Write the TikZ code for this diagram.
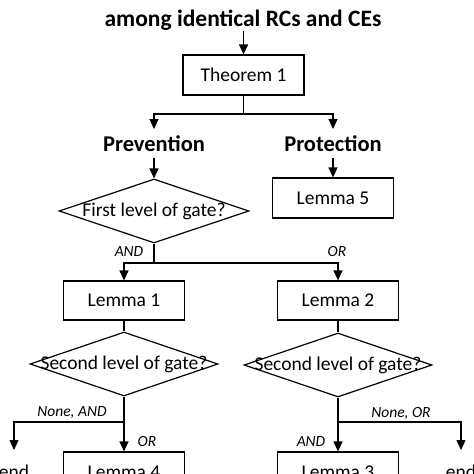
\documentclass[tikz,border=0pt]{standalone}
\usepackage{fontspec}
\setmainfont{Carlito}
\usetikzlibrary{arrows.meta,shapes.geometric}
\begin{document}
\begin{tikzpicture}[x=1pt,y=-1pt,line width=1.2pt,
  box/.style={draw,rectangle,minimum width=121pt,minimum height=40pt,inner sep=0pt,font=\fontsize{19.5}{23}\selectfont},
  dec/.style={draw,diamond,inner sep=0pt,minimum width=190pt,minimum height=64pt},
  txt/.style={inner sep=0pt,font=\fontsize{19.5}{23}\selectfont},
  head/.style={inner sep=0pt,font=\bfseries\fontsize{22.5}{26}\selectfont},
  ttl/.style={inner sep=0pt,font=\bfseries\fontsize{23.5}{27}\selectfont},
  lab/.style={inner sep=0pt,font=\itshape\fontsize{15.5}{18}\selectfont},
  arr/.style={-{Triangle[length=10pt,width=9pt]}}]
\useasboundingbox (0,0) rectangle (474,474);
\clip (0,0) rectangle (474,474);
\fill[white] (0,0) rectangle (474,474);
% title
\node[ttl,anchor=base] (title) at (243,26) {among identical RCs and CEs};
\node[box] (thm) at (243.5,75) {Theorem 1};
\draw[arr] (title.south -| thm.north) -- (thm.north);
% first split
\coordinate (j1) at (243.5,114);
\node[head,anchor=base] (prev) at (154,151) {Prevention};
\node[head,anchor=base] (prot) at (333,151) {Protection};
\coordinate (prevtip) at (154,129);
\coordinate (prottip) at (333,129);
\draw (thm.south) -- (j1);
\draw[arr] (j1) -| (prevtip);
\draw[arr] (j1) -| (prottip);
% decision 1 and lemma 5
\node[dec] (d1) at (154,211) {};
\node[txt] (d1t) at (d1) {First level of gate?};
\node[box] (l5) at (333,198) {Lemma 5};
\draw[arr] ([yshift=-6pt]prev.south) -- (d1.north);
\draw[arr] ([yshift=-6pt]prot.south) -- (l5.north);
% second split
\coordinate (j2) at (154,263);
\node[box,minimum height=39pt] (l1) at (124,300.5) {Lemma 1};
\node[box,minimum height=39pt] (l2) at (338,300.5) {Lemma 2};
\draw (d1.south) -- (j2);
\draw[arr] (j2) -| (l1.north);
\draw[arr] (j2) -| (l2.north);
\node[lab] (andA) at (129,252) {AND};
\node[lab] (orA) at (337,252) {OR};
% decisions 2 and 3
\node[dec,minimum width=188pt] (d2) at (124,364) {};
\node[txt] (d2t) at (d2) {Second level of gate?};
\node[dec,minimum width=188pt] (d3) at (338,365) {};
\node[txt] (d3t) at (d3) {Second level of gate?};
\draw (l1.south) -- (d2.north);
\draw (l2.south) -- (d3.north);
% bottom
\coordinate (j3) at (124,422);
\coordinate (j4) at (338,422);
\node[box] (l4) at (124,472) {Lemma 4};
\node[box] (l3) at (338,472) {Lemma 3};
\node[txt,anchor=base] (e1) at (14,478) {end};
\node[txt,anchor=base] (e2) at (461,478) {end};
\coordinate (e1tip) at (14,450);
\coordinate (e2tip) at (461,450);
\draw (d2.south) -- (j3);
\draw[arr] (j3) -- (l4.north);
\draw[arr] (j3) -| (e1tip);
\draw (d3.south) -- (j4);
\draw[arr] (j4) -- (l3.north);
\draw[arr] (j4) -| (e2tip);
\node[lab] (noneand) at (72,413) {None, AND};
\node[lab] (orB) at (147,442) {OR};
\node[lab] (noneor) at (401,413) {None, OR};
\node[lab] (andB) at (311,442) {AND};
\end{tikzpicture}
\end{document}
